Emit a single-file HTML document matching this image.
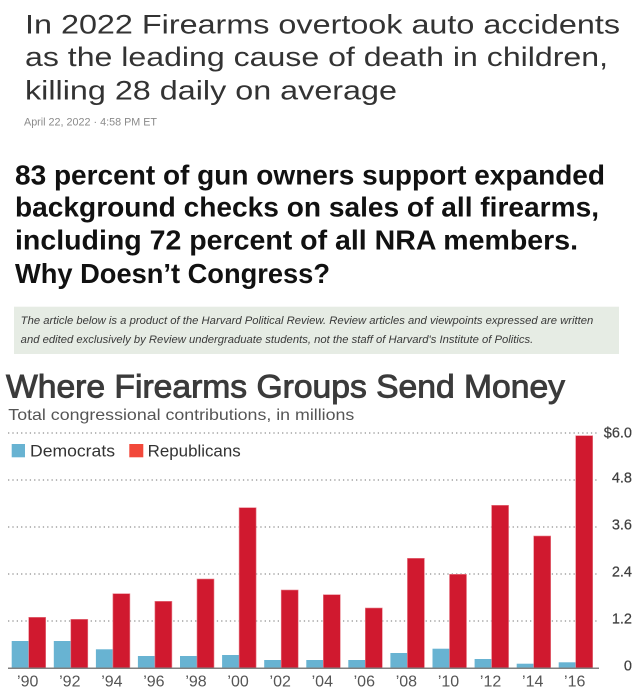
<!DOCTYPE html>
<html>
<head>
<meta charset="utf-8">
<style>
  html,body{margin:0;padding:0;background:#fff;}
  svg{display:block;}
</style>
</head>
<body>
<svg width="640" height="698" viewBox="0 0 640 698" xmlns="http://www.w3.org/2000/svg" font-family="'Liberation Sans', 'DejaVu Sans', sans-serif">
  <rect x="0" y="0" width="640" height="698" fill="#ffffff"/>

  <!-- Header title -->
  <g fill="#333333" font-size="27">
    <text x="25" y="33.3" textLength="595" lengthAdjust="spacingAndGlyphs">In 2022 Firearms overtook auto accidents</text>
    <text x="25" y="66" textLength="583" lengthAdjust="spacingAndGlyphs">as the leading cause of death in children,</text>
    <text x="25" y="99.3" textLength="372" lengthAdjust="spacingAndGlyphs">killing 28 daily on average</text>
  </g>
  <text x="24" y="125.7" font-size="11" fill="#8a8a8a" textLength="133" lengthAdjust="spacingAndGlyphs">April 22, 2022 · 4:58 PM ET</text>

  <!-- Bold statement -->
  <g fill="#111111" font-size="28" font-weight="bold">
    <text x="15" y="184.3" textLength="590" lengthAdjust="spacingAndGlyphs">83 percent of gun owners support expanded</text>
    <text x="15" y="216.5" textLength="584" lengthAdjust="spacingAndGlyphs">background checks on sales of all firearms,</text>
    <text x="15" y="249.5" textLength="563" lengthAdjust="spacingAndGlyphs">including 72 percent of all NRA members.</text>
    <text x="15" y="283" textLength="315" lengthAdjust="spacingAndGlyphs">Why Doesn’t Congress?</text>
  </g>

  <!-- Green note box -->
  <rect x="14" y="306.7" width="605" height="47.3" fill="#e6ece4"/>
  <g fill="#3a3a3a" font-size="11" font-style="italic">
    <text x="20.7" y="324" textLength="572.6" lengthAdjust="spacingAndGlyphs">The article below is a product of the Harvard Political Review. Review articles and viewpoints expressed are written</text>
    <text x="20.7" y="342.8" textLength="512.6" lengthAdjust="spacingAndGlyphs">and edited exclusively by Review undergraduate students, not the staff of Harvard's Institute of Politics.</text>
  </g>

  <!-- Chart title -->
  <text x="6" y="397.3" font-size="32" fill="#3b3b3b" stroke="#3b3b3b" stroke-width="0.9" textLength="559" lengthAdjust="spacingAndGlyphs">Where Firearms Groups Send Money</text>
  <text x="8.3" y="420" font-size="16" fill="#555555" textLength="346" lengthAdjust="spacingAndGlyphs">Total congressional contributions, in millions</text>

  <!-- Gridlines -->
  <g stroke="#8f8f8f" stroke-width="1.2" stroke-dasharray="1.3 3.05">
    <line x1="8" y1="433" x2="599" y2="433"/>
    <line x1="8" y1="480" x2="599" y2="480"/>
    <line x1="8" y1="527" x2="599" y2="527"/>
    <line x1="8" y1="574" x2="599" y2="574"/>
    <line x1="8" y1="621" x2="599" y2="621"/>
  </g>

  <!-- Legend -->
  <rect x="11.7" y="444" width="13.3" height="13.3" fill="#68b3d2"/>
  <text x="30" y="456.7" font-size="16.5" fill="#333333" textLength="85" lengthAdjust="spacingAndGlyphs">Democrats</text>
  <rect x="129.3" y="444" width="14" height="13.3" fill="#f2483a"/>
  <text x="147.7" y="456.7" font-size="16.5" fill="#333333" textLength="93" lengthAdjust="spacingAndGlyphs">Republicans</text>

  <!-- Axis labels right -->
  <g fill="#3f3f3f" font-size="14.5" text-anchor="end" stroke="#3f3f3f" stroke-width="0.2">
    <text x="632" y="437.5">$6.0</text>
    <text x="632" y="482.5">4.8</text>
    <text x="632" y="529.5">3.6</text>
    <text x="632" y="576.5">2.4</text>
    <text x="632" y="623.5">1.2</text>
    <text x="632" y="670.5">0</text>
  </g>

  <!-- Bars -->
  <g fill="#68b3d2">
    <rect x="11.7" y="641" width="17" height="27"/>
    <rect x="53.8" y="641" width="17" height="27"/>
    <rect x="95.9" y="649.3" width="17" height="18.7"/>
    <rect x="137.9" y="656" width="17" height="12"/>
    <rect x="180" y="656" width="17" height="12"/>
    <rect x="222.1" y="655" width="17" height="13"/>
    <rect x="264.2" y="660" width="17" height="8"/>
    <rect x="306.3" y="660" width="17" height="8"/>
    <rect x="348.3" y="660" width="17" height="8"/>
    <rect x="390.4" y="653" width="17" height="15"/>
    <rect x="432.5" y="648.7" width="17" height="19.3"/>
    <rect x="474.6" y="659" width="17" height="9"/>
    <rect x="516.7" y="663.7" width="17" height="4.3"/>
    <rect x="558.7" y="662.3" width="17" height="5.7"/>
  </g>
  <g fill="#d0192f" stroke="#e8808c" stroke-width="0.6">
    <rect x="28.7" y="617.3" width="17" height="50.7"/>
    <rect x="70.8" y="619.3" width="17" height="48.7"/>
    <rect x="112.9" y="593.7" width="17" height="74.3"/>
    <rect x="154.9" y="601.3" width="17" height="66.7"/>
    <rect x="197" y="579" width="17" height="89"/>
    <rect x="239.1" y="507.7" width="17" height="160.3"/>
    <rect x="281.2" y="590" width="17" height="78"/>
    <rect x="323.3" y="594.7" width="17" height="73.3"/>
    <rect x="365.3" y="608" width="17" height="60"/>
    <rect x="407.4" y="558.3" width="17" height="109.7"/>
    <rect x="449.5" y="574.3" width="17" height="93.7"/>
    <rect x="491.6" y="505.3" width="17" height="162.7"/>
    <rect x="533.7" y="536" width="17" height="132"/>
    <rect x="575.7" y="435.7" width="17" height="232.3"/>
  </g>

  <!-- Baseline -->
  <line x1="8" y1="668.3" x2="599" y2="668.3" stroke="#808080" stroke-width="1.5"/>

  <!-- X tick labels -->
  <g fill="#555555" font-size="16" text-anchor="middle">
    <text x="27.7" y="686.7">’90</text>
    <text x="69.8" y="686.7">’92</text>
    <text x="111.9" y="686.7">’94</text>
    <text x="153.9" y="686.7">’96</text>
    <text x="196" y="686.7">’98</text>
    <text x="238.1" y="686.7">’00</text>
    <text x="280.2" y="686.7">’02</text>
    <text x="322.3" y="686.7">’04</text>
    <text x="364.3" y="686.7">’06</text>
    <text x="406.4" y="686.7">’08</text>
    <text x="448.5" y="686.7">’10</text>
    <text x="490.6" y="686.7">’12</text>
    <text x="532.7" y="686.7">’14</text>
    <text x="574.7" y="686.7">’16</text>
  </g>
</svg>
</body>
</html>
